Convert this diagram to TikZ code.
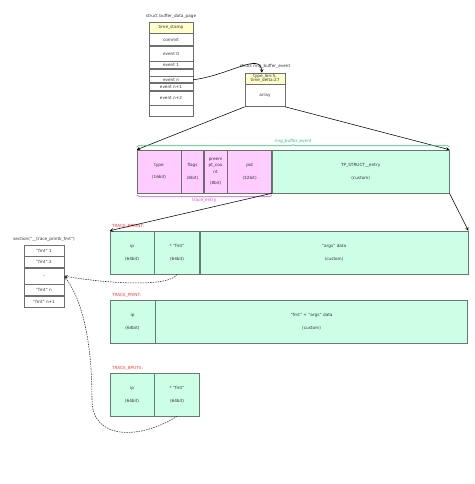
\documentclass[tikz,border=0pt]{standalone}
\usepackage{fontspec}
\setmainfont{DejaVu Sans}
\usetikzlibrary{positioning,decorations.pathreplacing}
\definecolor{hdryellow}{RGB}{255,255,204}
\definecolor{entrypink}{RGB}{255,204,255}
\definecolor{datamint}{RGB}{204,255,230}
\definecolor{cellline}{RGB}{110,110,110}
\definecolor{mintline}{RGB}{100,125,112}
\definecolor{celltext}{RGB}{50,50,50}
\definecolor{rbgreen}{RGB}{40,200,110}
\definecolor{temagenta}{RGB}{230,50,230}
\definecolor{tracered}{RGB}{255,60,60}
\newcommand{\tinyfont}{\fontsize{4.2}{4.7}\selectfont}
\newcommand{\cellfont}{\fontsize{4.2}{12.5}\selectfont}
\tikzstyle{slot} = [draw=cellline, rectangle, inner sep=0pt, minimum width=44pt, text=celltext, font=\tinyfont, align=center]
\tikzstyle{field} = [draw=cellline, rectangle, inner sep=0pt, minimum height=43pt, text=celltext, font=\cellfont, align=center, fill=entrypink]
\tikzstyle{record} = [field, draw=mintline, fill=datamint]
\tikzstyle{caption} = [inner sep=0pt, text=celltext, font=\tinyfont]
\tikzstyle{tag} = [inner sep=0pt, font=\tinyfont, text=tracered, anchor=south west]
\tikzstyle{fmtlink} = [->, draw=celltext, dash pattern=on 1.5pt off 1pt]

\begin{document}
\begin{tikzpicture}[x=1pt, y=-1pt, >=stealth, line width=0.55pt]
		\useasboundingbox (0,0) rectangle (474,484);

		\node [slot, minimum height=11pt, fill=hdryellow] (tstamp) at (171,27.5) {time\_stamp};
		\node [slot, minimum height=12pt, below=0pt of tstamp] (commit) {commit};
		\node [slot, minimum height=15pt, below=0pt of commit] (ev0) {event 0};
		\node [slot, minimum height=7pt, below=0pt of ev0] (ev1) {event 1};
		\node [slot, minimum height=7pt, below=0pt of ev1] (evgap) {};
		\node [slot, minimum height=6pt, below=0pt of evgap] (evn) {event n};
		\node [slot, minimum height=7pt, below=0pt of evn] (evn1) {event n+1};
		\node [slot, minimum height=14pt, below=0pt of evn1] (evn2) {event n+2};
		\node [slot, minimum height=11pt, below=0pt of evn2] (evtail) {};
		\node [caption, above=3pt of tstamp] (bdptitle) {struct buffer\_data\_page};

		\node [slot, minimum width=40pt, minimum height=11pt, fill=hdryellow] (rbhdr) at (265,78.5) {type\_len:5,\\time\_delta:27};
		\node [slot, minimum width=40pt, minimum height=22pt, below=0pt of rbhdr] (rbarray) {array};
		\node [caption, above=3.5pt of rbhdr] (rbtitle) {struct ring\_buffer\_event};

		\node [field, minimum width=44pt] (type) at (159,171.5) {type\\(16bit)};
		\node [field, minimum width=22pt, right=0pt of type] (flags) {flags\\(8bit)};
		\node [field, minimum width=23pt, right=0pt of flags, font=\fontsize{4.2}{6.5}\selectfont] (preempt) {preem\\pt\_cou\\nt\\[4.5pt](8bit)};
		\node [field, minimum width=44pt, right=0pt of preempt] (pid) {pid\\(32bit)};
		\node [record, minimum width=177pt, right=0pt of pid] (tpentry) {TP\_STRUCT\_\_entry\\(custom)};

		\node [record, minimum width=44pt] (bip) at (132,252.5) {ip\\(64bit)};
		\node [record, minimum width=45pt, right=0pt of bip] (bfmt) {* "fmt"\\(64bit)};
		\node [record, minimum width=268pt, right=0pt of bfmt] (bargs) {"args" data\\(custom)};
		\node [tag] (bprinttag) at ([xshift=2pt,yshift=1.5pt]bip.north west) {TRACE\_BPRINT:};

		\node [record, minimum width=45pt] (pip) at (132.5,321.5) {ip\\(64bit)};
		\node [record, minimum width=312pt, right=0pt of pip] (pdata) {"fmt" + "args" data\\(custom)};
		\node [tag] (printtag) at ([xshift=2pt,yshift=1.5pt]pip.north west) {TRACE\_PRINT:};

		\node [record, minimum width=44pt] (sip) at (132,394.5) {ip\\(64bit)};
		\node [record, minimum width=45pt, right=0pt of sip] (sfmt) {* "fmt"\\(64bit)};
		\node [tag] (bputstag) at ([xshift=2pt,yshift=1.5pt]sip.north west) {TRACE\_BPUTS:};

		\node [slot, minimum width=40pt, minimum height=11pt] (fmt1) at (44,250.5) {"fmt" 1};
		\node [slot, minimum width=40pt, minimum height=11pt, below=0pt of fmt1] (fmt2) {"fmt" 2};
		\node [slot, minimum width=40pt, minimum height=16pt, below=0pt of fmt2] (fmtdots) {..};
		\node [slot, minimum width=40pt, minimum height=11pt, below=0pt of fmtdots] (fmtn) {"fmt" n};
		\node [slot, minimum width=40pt, minimum height=11pt, below=0pt of fmtn] (fmtn1) {"fmt" n+1};
		\node [caption, above=3pt of fmt1] (sectitle) {section("\_\_trace\_printk\_fmt")};

		\draw [->] (evn.east) .. controls (230,75) and (260,52) .. ([xshift=-3pt]rbhdr.north);
		\draw [->] (rbarray.south west) -- (type.north west);
		\draw [->] (rbarray.south east) -- (tpentry.north east);
		\draw [rbgreen, decorate, decoration={brace, amplitude=2pt}] ([yshift=3pt]type.north west) -- ([yshift=3pt]tpentry.north east) node [caption, midway, above=2.5pt, text=rbgreen] (rblabel) {ring\_buffer\_event};
		\draw [temagenta, decorate, decoration={brace, amplitude=2pt}] ([yshift=-2pt]pid.south east) -- ([yshift=-2pt]type.south west) node [caption, midway, below=3pt, text=temagenta] (telabel) {trace\_entry};
		\draw [->] (pid.south east) -- (bip.north west);
		\draw [->] (tpentry.south east) -- (bargs.north east);
		\draw [fmtlink] (bfmt.south) .. controls (170,287) and (110,284) .. (fmtdots.east);
		\draw [fmtlink] (sfmt.south) .. controls (140,440) and (92,440) .. (92,400) .. controls (92,340) and (82,300) .. (fmtdots.east);
	\end{tikzpicture}
\end{document}
